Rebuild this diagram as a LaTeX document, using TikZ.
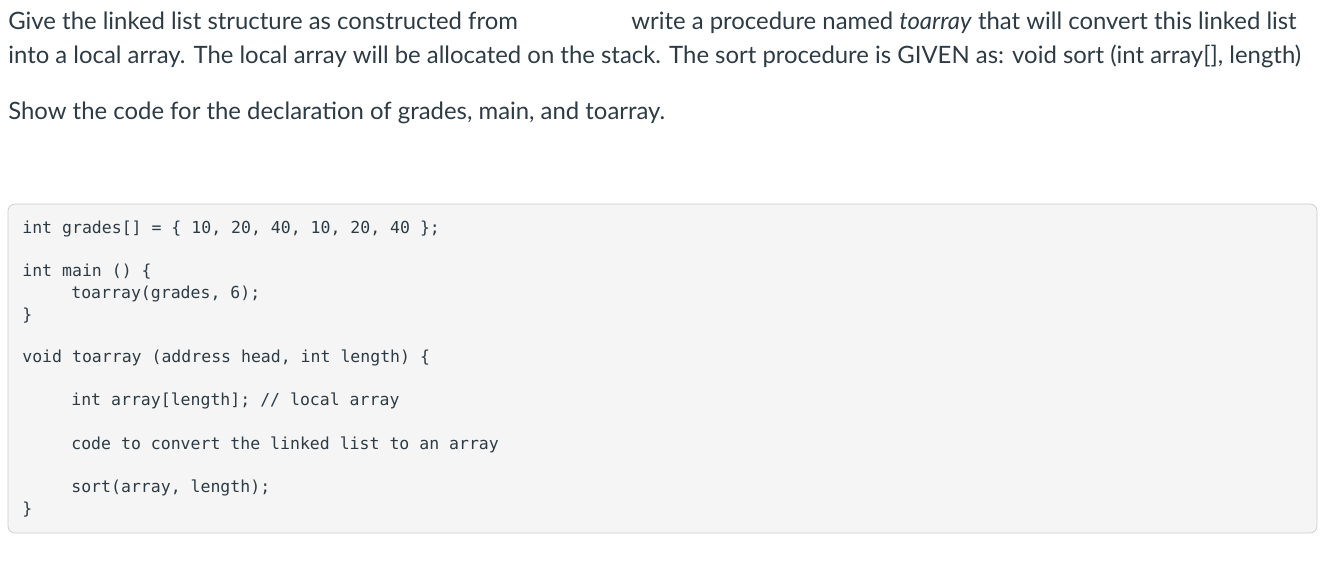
\documentclass[tikz,border=0pt]{standalone}
\usepackage{fontspec}
\setmainfont{Lato}
\setmonofont{DejaVu Sans Mono}
\definecolor{codebg}{HTML}{F5F5F5}
\definecolor{codeborder}{HTML}{C7CDD1}
\definecolor{txt}{HTML}{2D3B45}
\begin{document}
\begin{tikzpicture}[x=0.02cm,y=-0.02cm,
  prose/.style={anchor=base west,inner sep=0pt,font=\fontsize{13.6}{16}\selectfont,text=txt},
  code/.style={anchor=base west,inner sep=0pt,font=\ttfamily\fontsize{9.4}{11}\selectfont,text=txt}]
\useasboundingbox (0,0) rectangle (1333,566);
\node[prose] (p1) at (8,29) {Give the linked list structure as constructed from};
\node[prose] (p2) at (631,29) {write a procedure named \textit{toarray} that will convert this linked list};
\node[prose] (p3) at (8,63) {into a local array. The local array will be allocated on the stack. The sort procedure is GIVEN as: void sort (int array[], length)};
\node[prose] (p4) at (8,119) {Show the code for the declaration of grades, main, and toarray.};
\draw[codeborder,fill=codebg,rounded corners=4pt] (8,204) rectangle (1317,533);
\node[code] (c1) at (22,233) {int grades[] = \{ 10, 20, 40, 10, 20, 40 \};};
\node[code] (c2) at (22,276) {int main () \{};
\node[code] (c3) at (71,298) {toarray(grades, 6);};
\node[code] (c4) at (22,320) {\}};
\node[code] (c5) at (22,362) {void toarray (address head, int length) \{};
\node[code] (c6) at (71,405) {int array[length]; // local array};
\node[code] (c7) at (71,449) {code to convert the linked list to an array};
\node[code] (c8) at (71,492) {sort(array, length);};
\node[code] (c9) at (22,514) {\}};
\end{tikzpicture}
\end{document}
